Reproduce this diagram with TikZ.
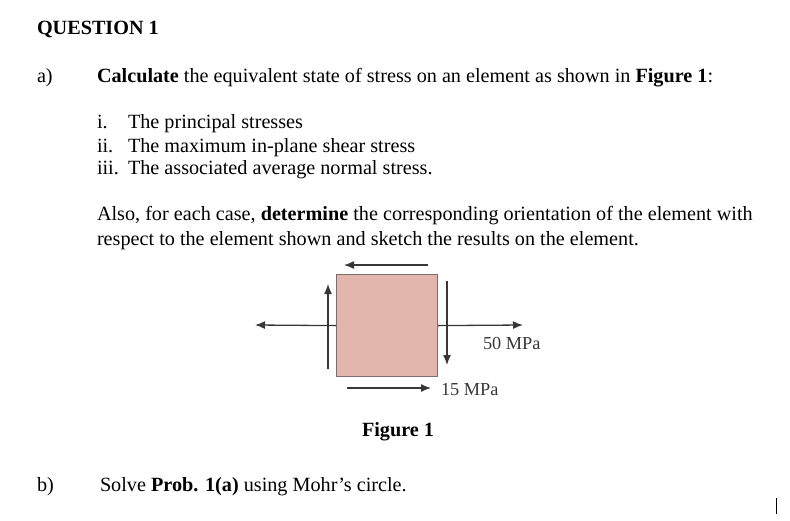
\documentclass[tikz,border=0pt]{standalone}
\usepackage{fontspec}
\setmainfont{Liberation Serif}
\usetikzlibrary{arrows.meta}
\definecolor{elfill}{RGB}{226,182,172}
\definecolor{elline}{RGB}{125,110,105}
\definecolor{ink}{RGB}{55,55,55}
\tikzset{
  txt/.style={anchor=base west,inner sep=0pt,outer sep=0pt,text=black,font=\fontsize{20.2}{24}\selectfont},
  lbl/.style={anchor=base west,inner sep=0pt,outer sep=0pt,text=ink,font=\fontsize{18.3}{22}\selectfont},
  force/.style={draw=ink,line width=1.3pt,-{Latex[length=10pt,width=8pt]}}
}
\begin{document}
\begin{tikzpicture}[x=1pt,y=-1pt]
\useasboundingbox (0,0) rectangle (790,520);
\node[txt] (q) at (37,34) {\textbf{QUESTION 1}};
\node[txt] (a) at (37,82) {a)};
\node[txt] (a1) at (97,82) {\textbf{Calculate} the equivalent state of stress on an element as shown in \textbf{Figure 1}:};
\node[txt] (i1) at (97,128) {i.};
\node[txt] (i2) at (128,128) {The principal stresses};
\node[txt] (ii1) at (97,152) {ii.};
\node[txt] (ii2) at (128,152) {The maximum in-plane shear stress};
\node[txt] (iii1) at (97,174) {iii.};
\node[txt] (iii2) at (128,174) {The associated average normal stress.};
\node[txt] (also) at (97,220) {Also, for each case, \textbf{determine} the corresponding orientation of the element with};
\node[txt] (resp) at (97,245) {respect to the element shown and sketch the results on the element.};
\node[draw=elline,fill=elfill,line width=1.2pt,minimum width=101pt,minimum height=102pt,inner sep=0pt,anchor=north west] (el) at (336,274) {};
\coordinate (t1) at (428,265); \coordinate (t2) at (344,265);
\coordinate (b1) at (347,388); \coordinate (b2) at (431,388);
\coordinate (l1) at (328,369); \coordinate (l2) at (328,284);
\coordinate (r1) at (447,281); \coordinate (r2) at (447,365);
\coordinate (hl) at (255,325); \coordinate (hr) at (523,325);
\draw[force] (t1) -- (t2);
\draw[force] (b1) -- (b2);
\draw[force] (l1) -- (l2);
\draw[force] (r1) -- (r2);
\draw[force] (el.west) -- (hl);
\draw[force] (el.east) -- (hr);
\node[lbl] (m50) at (483,349) {50 MPa};
\node[lbl] (m15) at (441,395) {15 MPa};
\node[txt] (fig) at (362,436) {\textbf{Figure 1}};
\node[txt] (bb) at (37,491) {b)};
\node[txt] (bt) at (100,491) {Solve \textbf{Prob. 1(a)} using Mohr’s circle.};
\coordinate (c1) at (776,498); \coordinate (c2) at (776,514);
\draw[black,line width=0.8pt] (c1) -- (c2);
\end{tikzpicture}
\end{document}
